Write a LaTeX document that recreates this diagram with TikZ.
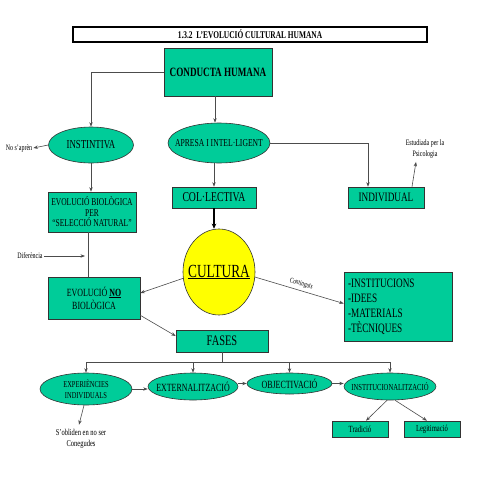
\documentclass[tikz,border=0pt]{standalone}
\usepackage{fontspec}
\setmainfont{Liberation Serif}[FakeStretch=0.72]
\usetikzlibrary{shapes.geometric,arrows.meta,calc}
\definecolor{tealbox}{RGB}{0,204,153}
\definecolor{culty}{RGB}{255,255,0}
\begin{document}
\begin{tikzpicture}[x=1pt,y=-1pt,
  box/.style={draw=black!80, line width=0.6pt, fill=tealbox, inner sep=1pt, align=center},
  ell/.style={ellipse, draw=black!80, line width=0.6pt, fill=tealbox, inner sep=0pt},
  lbl/.style={align=center, inner sep=0pt},
  note/.style={align=center, inner sep=1pt, font=\fontsize{8.3}{11}\selectfont},
  arr/.style={draw=black!70, line width=0.6pt, -{Stealth[length=4.5pt,width=3.4pt]}},
  plain/.style={draw=black!70, line width=0.6pt}]
\fill[white] (0,0) rectangle (480,480);
\useasboundingbox (0,0) rectangle (480,480);

% title
\node[draw=black, line width=1.6pt, minimum width=354.4pt, minimum height=15.4pt, inner sep=0pt,
      font=\bfseries\fontsize{10.3}{10}\selectfont] (title) at (250,34.5) {1.3.2\ \ L’EVOLUCIÓ CULTURAL HUMANA};

% main boxes
\node[box, minimum width=108pt, minimum height=48pt, font=\bfseries\fontsize{12.7}{13}\selectfont] (conducta) at (218,72) {CONDUCTA HUMANA};

\node[ell, minimum width=85pt, minimum height=36pt] (instintiva) at (91,145) {};
\node[lbl, font=\fontsize{12.2}{13}\selectfont] (instintiva-t) at (instintiva) {INSTINTIVA};

\node[ell, minimum width=102pt, minimum height=40pt] (apresa) at (219,143) {};
\node[lbl, font=\fontsize{10.6}{11}\selectfont] (apresa-t) at (apresa) {APRESA I INTEL·LIGENT};

\node[box, minimum width=88pt, minimum height=40pt, font=\fontsize{10.4}{10.5}\selectfont] (evobio) at (92,212) {EVOLUCIÓ BIOLÒGICA\\PER\\“SELECCIÓ NATURAL”};

\node[box, minimum width=84pt, minimum height=21pt, font=\fontsize{13.5}{14}\selectfont] (collectiva) at (214,197.5) {COL·LECTIVA};
\node[box, minimum width=76pt, minimum height=21pt, font=\fontsize{12.8}{13}\selectfont] (individual) at (386,197.5) {INDIVIDUAL};

\node[note] (estudiada) at (425,149.5) {Estudiada per la\\Psicologia};
\node[note, anchor=center] (noapren) at (19,148) {No s’aprèn};
\node[note] (diferencia) at (30,256) {Diferència};
\coordinate (difend) at (85,256);

\node[ellipse, draw=black!80, line width=0.6pt, fill=culty, inner sep=0pt, minimum width=72pt, minimum height=86pt] (cultura) at (219,272) {};
\node[lbl, font=\fontsize{18.5}{19}\selectfont] (cultura-t) at (cultura) {\underline{CULTURA}};

\node[box, minimum width=92pt, minimum height=42pt, font=\fontsize{11}{13}\selectfont] (evono) at (94,298) {EVOLUCIÓ \textbf{\underline{NO}}\\BIOLÒGICA};

\node[box, minimum width=92pt, minimum height=22pt, font=\fontsize{14.5}{15}\selectfont] (fases) at (222,341) {FASES};

\node[box, minimum width=108pt, minimum height=69pt, text width=100pt, align=left, inner xsep=4pt,
      font=\fontsize{12.8}{15}\selectfont] (llista) at (398,306.5) {-INSTITUCIONS\\-IDEES\\-MATERIALS\\-TÈCNIQUES};

% phases
\node[ell, minimum width=92pt, minimum height=32pt] (experiencies) at (86,389) {};
\node[lbl, font=\fontsize{9}{11}\selectfont] (experiencies-t) at (experiencies) {EXPERIÈNCIES\\INDIVIDUALS};
\node[ell, minimum width=90pt, minimum height=27pt] (externalitzacio) at (193,386.5) {};
\node[lbl, font=\fontsize{11}{12}\selectfont] (externalitzacio-t) at (externalitzacio) {EXTERNALITZACIÓ};
\node[ell, minimum width=85pt, minimum height=21pt] (objectivacio) at (289.5,383.5) {};
\node[lbl, font=\fontsize{11}{12}\selectfont] (objectivacio-t) at (objectivacio) {OBJECTIVACIÓ};
\node[ell, minimum width=92pt, minimum height=27pt] (institucionalitzacio) at (390,386.5) {};
\node[lbl, font=\fontsize{9.2}{10}\selectfont] (institucionalitzacio-t) at (institucionalitzacio) {INSTITUCIONALITZACIÓ};

\node[note, font=\fontsize{9}{11}\selectfont] (obliden) at (81,438.5) {S’obliden en no ser\\Conegudes};
\node[box, minimum width=56pt, minimum height=16pt, font=\fontsize{9.4}{10}\selectfont] (tradicio) at (360,429) {Tradició};
\node[box, minimum width=56pt, minimum height=16pt, font=\fontsize{9.2}{10}\selectfont] (legitimacio) at (432,429) {Legitimació};

\coordinate (hub) at (222,362);

% connectors
\draw[arr] (conducta.west) -| (instintiva.north);
\draw[arr] (conducta.south -| 215,0) -- (apresa.north -| 215,0);
\draw[arr] (instintiva.west) -- (noapren.east);
\draw[arr] (instintiva.south) -- (evobio.north -| instintiva.south);
\draw[arr] (collectiva.north |- apresa.south) -- (collectiva.north);
\draw[arr] (apresa.east) -| ([xshift=-18pt]individual.north);
\draw[arr] ([xshift=26pt]individual.north) -- ([xshift=-9pt,yshift=-2pt]estudiada.south);
\draw[draw=black, line width=1.4pt, -{Stealth[length=5pt,width=4.5pt]}] (collectiva.south) -- (collectiva.south |- cultura.north);
\draw[plain] ([xshift=-4pt]evobio.south) -- ([xshift=-4pt]evobio.south |- evono.north);
\draw[arr] (diferencia.east) -- (difend);
\draw[arr] (cultura.190) -- ([yshift=5pt]evono.east);
\draw[arr] ([yshift=4pt]evono.south east) -- ([yshift=5pt]fases.west);
\draw[arr] (cultura.-8) -- node[sloped, above=2pt, inner sep=1pt, font=\fontsize{7.5}{8}\selectfont] (continguts) {Continguts} ([yshift=3pt]llista.west);
\draw[plain] (fases.south) -- (hub);
\draw[arr] (hub) -| (experiencies.north);
\draw[arr] (hub) -| (externalitzacio.north);
\draw[arr] (hub) -| (objectivacio.north);
\draw[arr] (hub) -| (institucionalitzacio.north);
\draw[arr] (experiencies.east) -- (experiencies.east -| externalitzacio.west);
\draw[arr] (externalitzacio.east |- objectivacio.west) -- (objectivacio.west);
\draw[arr] (objectivacio.east) -- (objectivacio.east -| institucionalitzacio.west);
\draw[arr] ([xshift=-2pt]experiencies.south) -- ([xshift=-2pt,yshift=3pt]obliden.north);
\draw[arr] (institucionalitzacio.258) -- ([xshift=6pt]tradicio.north);
\draw[arr] (institucionalitzacio.290) -- ([xshift=-5pt]legitimacio.north);
\end{tikzpicture}
\end{document}
